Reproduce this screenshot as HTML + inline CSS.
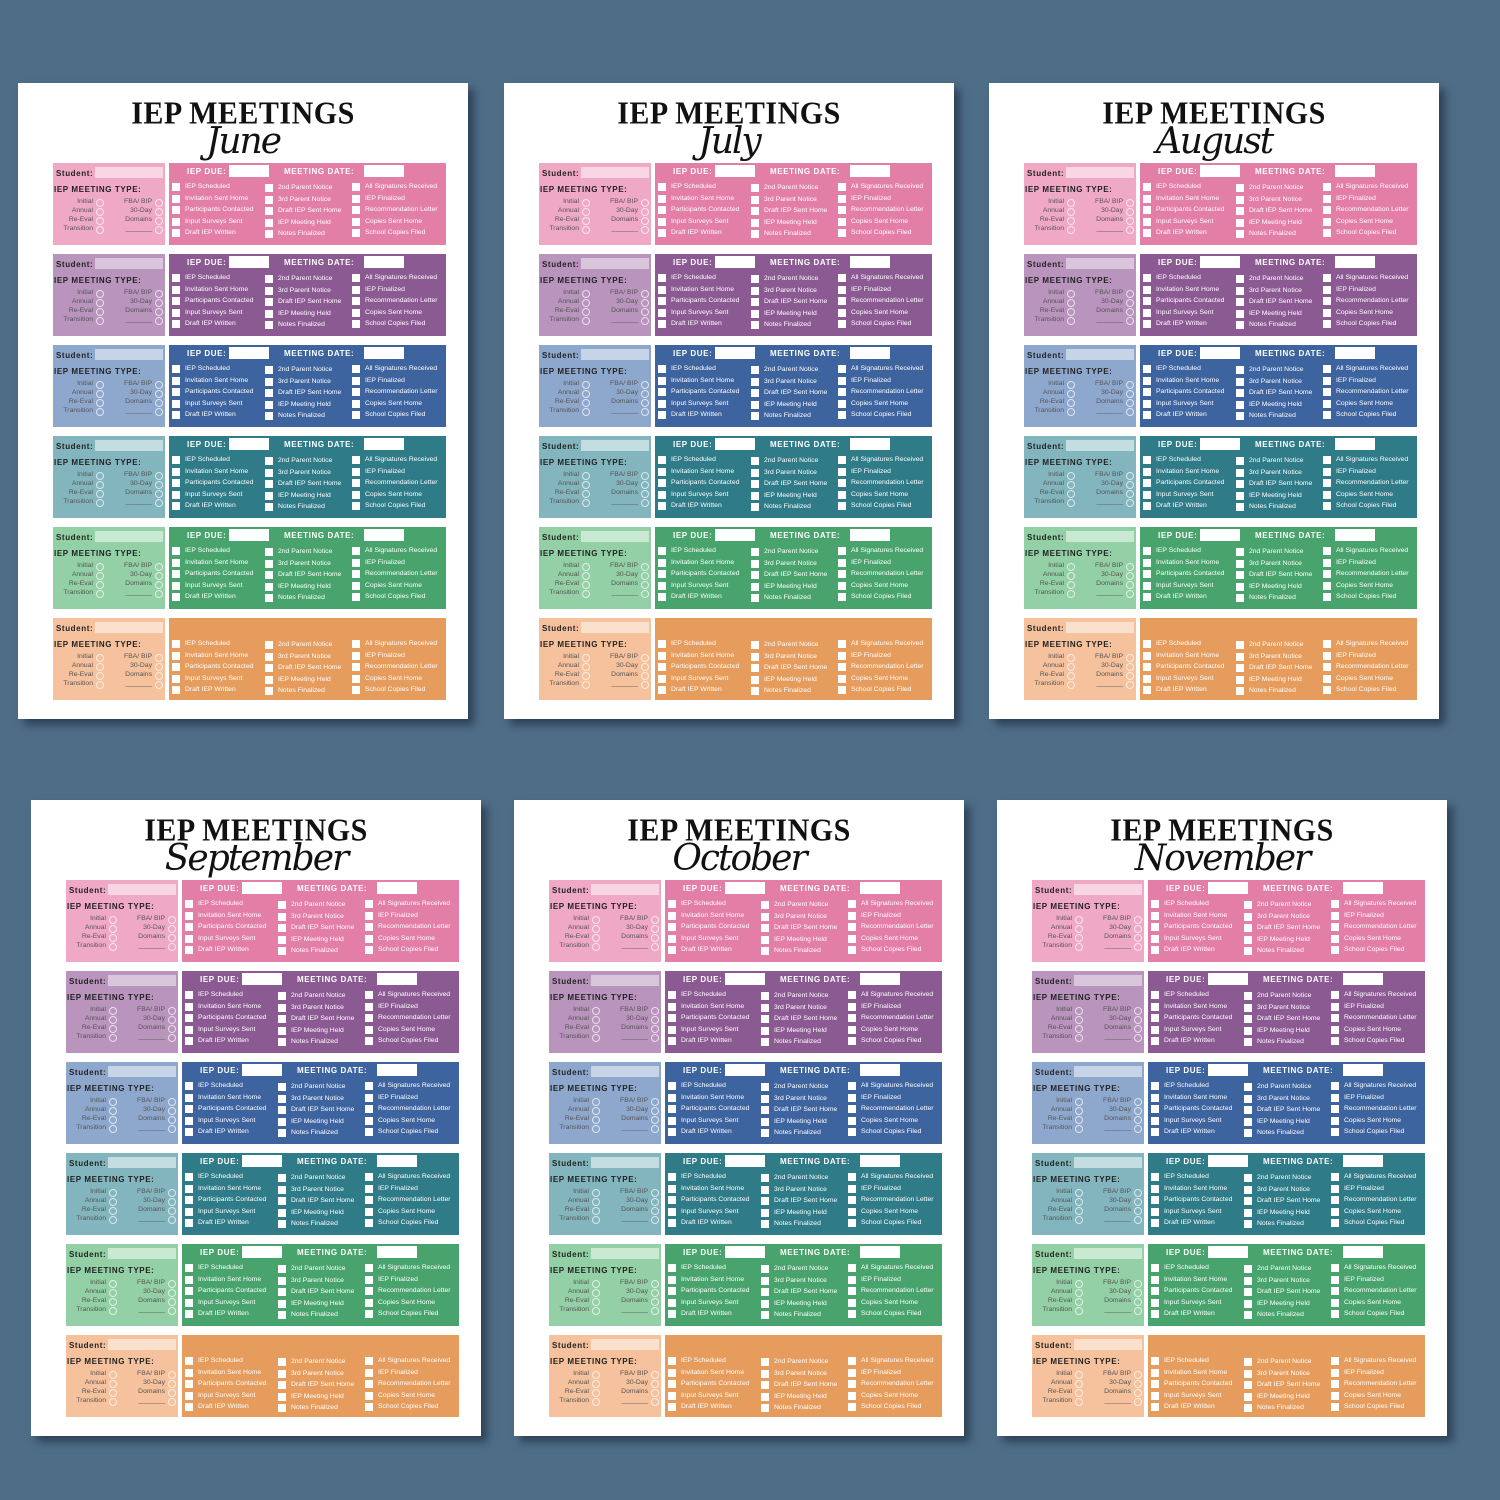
<!DOCTYPE html>
<html><head><meta charset="utf-8">
<style>
body{margin:0;width:1500px;height:1500px;background:#4e6e88;position:relative;overflow:hidden;font-family:"Liberation Sans",sans-serif}
.page{position:absolute;width:450px;height:636px;background:#fff;box-shadow:6px 6px 8px rgba(20,30,45,.55)}
.title{position:absolute;left:0;width:450px;top:14px;text-align:center;font:900 30px "Liberation Serif",serif;font-weight:bold;letter-spacing:.5px;transform:scaleY(1.05);color:#111}
.month{position:absolute;left:0;width:450px;top:38px;text-align:center;font:italic 36px "DejaVu Serif",serif;color:#111;letter-spacing:-2px}
.lb,.rb{position:absolute;height:82px}
.lb{width:112px}
.rb{width:277px}
.t{position:absolute;white-space:nowrap;font-size:6.8px;color:#fff}
.b{font-weight:bold;font-size:8px;color:#222;letter-spacing:.6px}
.rb .b{color:#fff}
.box{position:absolute;background:#fff}
.cb{position:absolute;width:8px;height:8px;background:#fff}
.ci{position:absolute;width:6px;height:6px;border:1px solid rgba(255,255,255,.7);border-radius:50%}
</style></head><body>
<script>
const pages=[[18,83,"June"],[504,83,"July"],[989,83,"August"],[31,800,"September"],[514,800,"October"],[997,800,"November"]];
const lcol=["#f0a9c5","#b994bd","#8ea8cd","#82b5bd","#93d0a5","#f5c29d"];
const rcol=["#e37ea6","#8c5a93","#3d649f","#2f7b88","#48a46c","#e69c5c"];
const lcolIn=["#f9d6e4","#dac6dc","#c7d4e7","#c3dde1","#c9e9d2","#fae1cd"];
const c1=["IEP Scheduled","Invitation Sent Home","Participants Contacted","Input Surveys Sent","Draft IEP Written"];
const c2=["2nd Parent Notice","3rd Parent Notice","Draft IEP Sent Home","IEP Meeting Held","Notes Finalized"];
const c3=["All Signatures Received","IEP Finalized","Recommendation Letter","Copies Sent Home","School Copies Filed"];
const tl=["Initial","Annual","Re-Eval","Transition"];
const tr=["FBA/ BIP","30-Day","Domains","_______"];
function el(p,cls,name,style,txt){const e=document.createElement('div');e.className=cls;


Object.assign(e.style,style);if(txt)e.textContent=txt;p.appendChild(e);return e;}
pages.forEach(([px,py,m])=>{
 const pg=el(document.body,'page','planner-page',{left:px+'px',top:py+'px'});
 el(pg,'title','page-title',{},'IEP MEETINGS');
 el(pg,'month','month-title',{},m);
 for(let i=0;i<6;i++){
  const y=80+i*91;
  const L=el(pg,'lb','student-panel',{left:'35px',top:y+'px',background:lcol[i]});
  el(L,'t b','student-label',{left:'3px',top:'6px'},'Student:');
  const sb=el(L,'box','student-input',{left:'42px',top:'4px',width:'68px',height:'11px',background:lcolIn[i]});
  
  el(L,'t b','meeting-type-label',{left:'1px',top:'22px'},'IEP MEETING TYPE:');
  for(let r=0;r<4;r++){
   el(L,'t','type-option',{right:'72px',top:(35+r*9)+'px',color:'#555'},tl[r]);
   el(L,'ci','type-radio',{left:'43px',top:(36+r*9)+'px'});
   el(L,'t','type-option',{right:'13px',top:(35+r*9)+'px',color:'#555'},tr[r]);
   el(L,'ci','type-radio',{left:'102px',top:(36+r*9)+'px'});
  }
  const R=el(pg,'rb','checklist-panel',{left:'151px',top:y+'px',background:rcol[i]});
  if(i<5){
   el(R,'t b','iep-due-label',{left:'18px',top:'4px'},'IEP DUE:');
   el(R,'box','iep-due-input',{left:'60px',top:'2px',width:'40px',height:'12px'});
   el(R,'t b','meeting-date-label',{left:'115px',top:'4px'},'MEETING DATE:');
   el(R,'box','meeting-date-input',{left:'195px',top:'2px',width:'40px',height:'12px'});
  }
  [[c1,3],[c2,96],[c3,183]].forEach(([arr,x],ci)=>{
   arr.forEach((s,r)=>{
    const yy=(i<5?20:22)+r*11.5+(ci==1?1:0);
    el(R,'cb','checkbox',{left:x+'px',top:yy+'px'});
    el(R,'t','checklist-item',{left:(x+13)+'px',top:(yy)+'px'},s);
   });
  });
 }
});
</script>
</body></html>
